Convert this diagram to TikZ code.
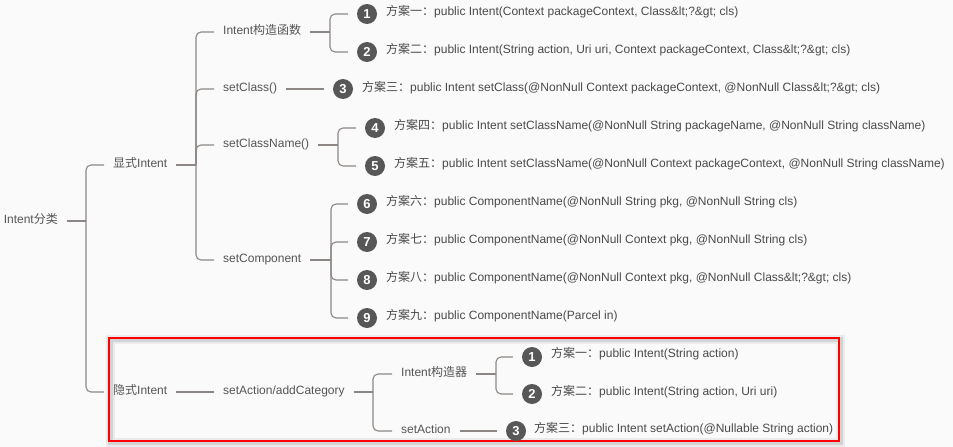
\documentclass[tikz,border=0pt]{standalone}
\usepackage{fontspec}
\setmainfont{Liberation Sans}
\newfontfamily\cjk{Noto Sans CJK SC}
\newcommand\zh[1]{{\cjk #1}}

\definecolor{bgc}{HTML}{FAFAFA}
\definecolor{txtc}{HTML}{555555}
\definecolor{descc}{HTML}{4A4A4A}
\definecolor{linec}{HTML}{8C8784}
\definecolor{dotc}{HTML}{575757}
\definecolor{boxred}{HTML}{FF0000}

\begin{document}
\begin{tikzpicture}[
            x=1pt, y=-1pt,
            every node/.style={font=\fontsize{12}{14}\selectfont, text=txtc},
            lbl/.style={inner xsep=9pt, inner ysep=0pt, text height=8.5pt, text depth=3pt},
            num/.style={circle, fill=dotc, minimum size=20pt, inner sep=0pt, text=white,
                        font=\fontsize{13}{13}\selectfont\bfseries},
            desc/.style={anchor=west, inner sep=0pt, text height=9pt, text depth=3pt, text=descc},
            conn/.style={draw=linec, line width=1.1pt, rounded corners=5pt},
            todot/.style={conn, shorten >=9pt}
            ]
            \useasboundingbox (0,0) rectangle (953,447);
            \fill[bgc] (0,0) rectangle (953,447);

            % highlighted part
            \draw[black, opacity=0.06, line width=9pt] (110,339) rectangle (840,442);
            \draw[black, opacity=0.10, line width=5pt] (110,339) rectangle (840,442);
            \draw[boxred, line width=2pt] (109,338) rectangle (839,441);

            \node[lbl, anchor=east] (root) at (67,221) {Intent\zh{分类}};
            \node[lbl, anchor=west] (xianshi) at (104,165) {\zh{显式}Intent};
            \node[lbl, anchor=west] (yinshi) at (104,392) {\zh{隐式}Intent};

            \node[lbl, anchor=west] (ctor) at (214,32) {Intent\zh{构造函数}};
            \node[lbl, anchor=west] (setclass) at (214,89) {setClass()};
            \node[lbl, anchor=west] (setclassname) at (214,145) {setClassName()};
            \node[lbl, anchor=west] (setcomp) at (214,260) {setComponent};
            \node[lbl, anchor=west] (addcat) at (214,392) {setAction/addCategory};
            \node[lbl, anchor=west] (actctor) at (392,374) {Intent\zh{构造器}};
            \node[lbl, anchor=west] (setaction) at (392,431) {setAction};

            \node[num] (c1) at (367,14) {1};
            \node[num] (c2) at (367,52) {2};
            \node[num] (c3) at (343,89) {3};
            \node[num] (c4) at (375,128) {4};
            \node[num] (c5) at (375,166) {5};
            \node[num] (c6) at (367,204) {6};
            \node[num] (c7) at (367,242) {7};
            \node[num] (c8) at (367,280) {8};
            \node[num] (c9) at (367,318) {9};
            \node[num] (k1) at (532,357) {1};
            \node[num] (k2) at (532,394) {2};
            \node[num] (k3) at (516,431) {3};

            \node[desc] (d1) at (386,12) {\zh{方案一：}public Intent(Context packageContext, Class\&lt;?\&gt; cls)};
            \node[desc] (d2) at (386,50) {\zh{方案二：}public Intent(String action, Uri uri, Context packageContext, Class\&lt;?\&gt; cls)};
            \node[desc] (d3) at (362,88) {\zh{方案三：}public Intent setClass(@NonNull Context packageContext, @NonNull Class\&lt;?\&gt; cls)};
            \node[desc] (d4) at (394,126) {\zh{方案四：}public Intent setClassName(@NonNull String packageName, @NonNull String className)};
            \node[desc] (d5) at (394,164) {\zh{方案五：}public Intent setClassName(@NonNull Context packageContext, @NonNull String className)};
            \node[desc] (d6) at (386,202) {\zh{方案六：}public ComponentName(@NonNull String pkg, @NonNull String cls)};
            \node[desc] (d7) at (386,240) {\zh{方案七：}public ComponentName(@NonNull Context pkg, @NonNull String cls)};
            \node[desc] (d8) at (386,278) {\zh{方案八：}public ComponentName(@NonNull Context pkg, @NonNull Class\&lt;?\&gt; cls)};
            \node[desc] (d9) at (386,316) {\zh{方案九：}public ComponentName(Parcel in)};
            \node[desc] (e1) at (551,354) {\zh{方案一：}public Intent(String action)};
            \node[desc] (e2) at (551,392) {\zh{方案二：}public Intent(String action, Uri uri)};
            \node[desc] (e3) at (534,429) {\zh{方案三：}public Intent setAction(@Nullable String action)};

            \coordinate (jroot) at (86,221);
            \coordinate (jx) at (196,165);
            \coordinate (jctor) at (330,32);
            \coordinate (jcn) at (338,145);
            \coordinate (jcomp) at (331,260);
            \coordinate (jadd) at (373,392);
            \coordinate (jact) at (496,374);

            \draw[conn] (root) -- (jroot);
            \draw[conn] (jroot) |- (xianshi);
            \draw[conn] (jroot) |- (yinshi);

            \draw[conn] (xianshi) -- (jx);
            \draw[conn] (jx) |- (ctor);
            \draw[conn] (jx) |- (setclass);
            \draw[conn] (jx) |- (setclassname);
            \draw[conn] (jx) |- (setcomp);

            \draw[conn] (ctor) -- (jctor);
            \draw[todot] (jctor) |- (c1);
            \draw[todot] (jctor) |- (c2);
            \draw[todot] (setclass) -- (c3);
            \draw[conn] (setclassname) -- (jcn);
            \draw[todot] (jcn) |- (c4);
            \draw[todot] (jcn) |- (c5);
            \draw[conn] (setcomp) -- (jcomp);
            \foreach \c in {c6,c7,c8,c9}
                \draw[todot] (jcomp) |- (\c);

            \draw[conn] (yinshi) -- (addcat);
            \draw[conn] (addcat) -- (jadd);
            \draw[conn] (jadd) |- (actctor);
            \draw[conn] (jadd) |- (setaction);
            \draw[conn] (actctor) -- (jact);
            \draw[todot] (jact) |- (k1);
            \draw[todot] (jact) |- (k2);
            \draw[todot] (setaction) -- (k3);
        \end{tikzpicture}
\end{document}
